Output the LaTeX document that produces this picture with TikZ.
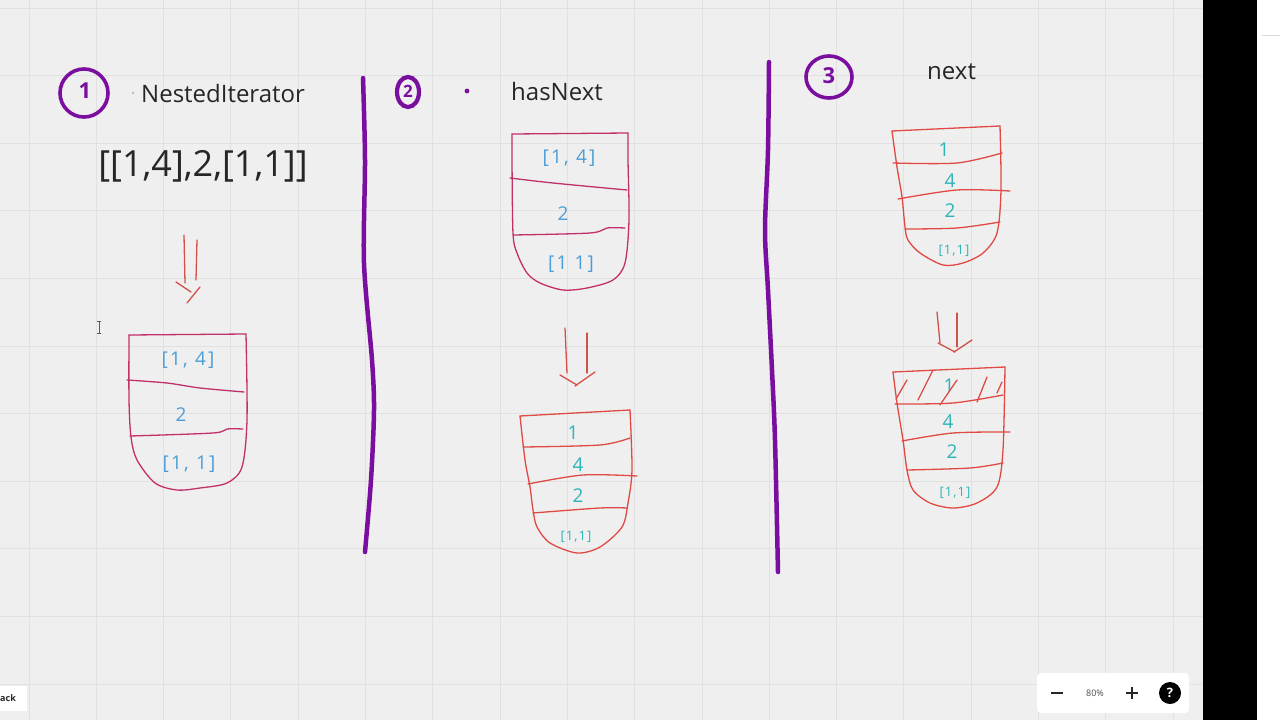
\documentclass[tikz,border=0pt]{standalone}
\usepackage{fontspec}
\setmainfont{Open Sans}
\definecolor{bg}{HTML}{EFEFEF}
\definecolor{gridc}{HTML}{E1E1E1}
\definecolor{purp}{HTML}{7A0E9E}
\definecolor{rose}{HTML}{C2306A}
\definecolor{redd}{HTML}{E04A44}
\definecolor{arrowc}{HTML}{D2524A}
\definecolor{bluet}{HTML}{4C9ED8}
\definecolor{tealt}{HTML}{2DB4B8}
\definecolor{ink}{HTML}{262626}
\tikzset{
  stackline/.style={line width=1.3pt, line join=round, line cap=round},
  sepline/.style={purp, line width=4.5pt, line cap=round, line join=round},
  numcircle/.style={purp, line width=3.6pt},
  numtext/.style={text=purp, font=\bfseries\fontsize{22}{22}\selectfont, inner sep=0},
  hw/.style={font=\fontsize{19}{19}\selectfont\addfontfeatures{LetterSpace=12}, inner sep=0},
  hws/.style={font=\fontsize{13}{13}\selectfont\addfontfeatures{LetterSpace=8}, inner sep=0},
  title/.style={font=\fontsize{24}{24}\selectfont, text=ink, anchor=west, inner sep=0},
}
\begin{document}
\begin{tikzpicture}[x=1pt,y=-1pt]
\useasboundingbox (0,0) rectangle (1280,720);
\fill[bg] (0,0) rectangle (1280,720);
% grid
\foreach \i in {0,...,17} \draw[gridc, line width=1pt] ({29+67.3*\i},0) -- ({29+67.3*\i},720);
\foreach \j in {0,...,10} \draw[gridc, line width=1pt] (0,{8+67.6*\j}) -- (1203,{8+67.6*\j});

% ---------- section 1 ----------
\draw[numcircle] (84,93) ellipse [x radius=24, y radius=24];
\node[numtext] (n1) at (85,91) {1};
\fill[black!45] (133,93) circle (0.9);
\node[title] (t1) at (141,93) {NestedIterator};
\node[font=\fontsize{36}{36}\selectfont, text=ink] (arr) at (203,166) {[[1,4],2,[1,1]]};

% arrow 1
\draw[arrowc, stackline] (184,235) -- (185,283);
\draw[arrowc, stackline] (197,240) -- (196,280);
\draw[arrowc, stackline] (176,282) -- (191,292);
\draw[arrowc, stackline] (200,287) -- (187,303);

% cursor
\draw[black!65, line width=0.6pt] (99,321) -- (99,333) (97,321) -- (101,321) (97,333) -- (101,333);

% stack 1
\draw[rose, stackline] (129,335) -- (246,334);
\draw[rose, stackline] plot[smooth] coordinates {(129,335) (129,400) (131,437) (137,460) (155,483) (177,490) (200,488) (227,483) (242,467) (247,420) (246,334)};
\draw[rose, stackline] plot[smooth] coordinates {(127,380) (167,383) (200,388) (244,392)};
\draw[rose, stackline] plot[smooth] coordinates {(130,436) (213,433) (227,429) (243,429)};
\node[hw, text=bluet] (s1a) at (188,360) {[1, 4]};
\node[hw, text=bluet] (s1b) at (181,415) {2};
\node[hw, text=bluet] (s1c) at (189,464) {[1, 1]};

% separator 1
\draw[sepline] plot[smooth] coordinates {(363,78) (365,160) (364,263) (372,360) (374,410) (371,480) (365,552)};

% ---------- section 2 ----------
\draw[numcircle, line width=4.2pt] (408,92) ellipse [x radius=11, y radius=15];
\node[numtext, font=\bfseries\fontsize{17}{17}\selectfont] (n2) at (408,91) {2};
\fill[purp] (467,91) circle (2.4);
\node[title] (t2) at (511,91) {hasNext};

% stack 2a
\draw[rose, stackline] (512,134) -- (628,133);
\draw[rose, stackline] plot[smooth] coordinates {(512,134) (512,160) (513,233) (517,253) (527,273) (540,283) (563,290) (587,288) (613,280) (625,263) (629,220) (628,160) (628,133)};
\draw[rose, stackline] plot[smooth] coordinates {(510,178) (553,183) (627,190)};
\draw[rose, stackline] plot[smooth] coordinates {(513,235) (590,233) (607,228) (625,228)};
\node[hw, text=bluet] (s2a) at (569,158) {[1, 4]};
\node[hw, text=bluet] (s2b) at (563,214) {2};
\node[hw, text=bluet] (s2c) at (571,264) {[1 1]};

% arrow 2
\draw[arrowc, stackline] (565,328) -- (567,373);
\draw[arrowc, stackline] (587,333) -- (587,373);
\draw[arrowc, stackline] (560,375) -- (577,385);
\draw[arrowc, stackline] (595,372) -- (575,386);

% stack 2b
\draw[redd, stackline] (520,416) -- (630,410);
\draw[redd, stackline] plot[smooth] coordinates {(520,416) (525,460) (530,487) (533,510) (537,527) (550,543) (577,553) (600,547) (622,527) (628,503) (632,470) (630,410)};
\draw[redd, stackline] plot[smooth] coordinates {(523,447) (600,445) (630,438)};
\draw[redd, stackline] plot[smooth] coordinates {(528,484) (583,475) (637,476)};
\draw[redd, stackline] plot[smooth] coordinates {(533,513) (600,508) (627,508)};
\node[hw, text=tealt] (s3a) at (573,433) {1};
\node[hw, text=tealt] (s3b) at (578,465) {4};
\node[hw, text=tealt] (s3c) at (578,496) {2};
\node[hws, text=tealt] (s3d) at (576,537) {[1,1]};

% separator 2
\draw[sepline] plot[smooth] coordinates {(769,62) (768,150) (765,230) (768,290) (772,370) (775,440) (778,572)};

% ---------- section 3 ----------
\draw[numcircle] (829,77) ellipse [x radius=23, y radius=21];
\node[numtext] (n3) at (829,76) {3};
\node[title] (t3) at (927,72) {next};

% stack 3a
\draw[redd, stackline] (892,131) -- (1000,126);
\draw[redd, stackline] plot[smooth] coordinates {(892,131) (897,167) (902,197) (905,227) (908,240) (920,253) (943,265) (963,263) (983,253) (997,233) (1001,190) (1000,126)};
\draw[redd, stackline] plot[smooth] coordinates {(893,163) (957,163) (1002,153)};
\draw[redd, stackline] plot[smooth] coordinates {(898,199) (957,190) (1010,191)};
\draw[redd, stackline] plot[smooth] coordinates {(905,229) (957,228) (1000,222)};
\node[hw, text=tealt] (s4a) at (944,150) {1};
\node[hw, text=tealt] (s4b) at (950,181) {4};
\node[hw, text=tealt] (s4c) at (950,211) {2};
\node[hws, text=tealt] (s4d) at (954,251) {[1,1]};

% arrow 3
\draw[arrowc, stackline] (937,312) -- (940,343);
\draw[arrowc, stackline] (957,313) -- (957,347);
\draw[arrowc, stackline] (938,343) -- (955,352);
\draw[arrowc, stackline] (972,340) -- (954,352);

% stack 3b
\draw[redd, stackline] (893,372) -- (1005,367);
\draw[redd, stackline] plot[smooth] coordinates {(893,372) (897,403) (903,440) (907,470) (913,490) (930,503) (953,508) (977,503) (997,487) (1003,450) (1005,367)};
\draw[redd, stackline] plot[smooth] coordinates {(895,404) (953,403) (1003,395)};
\draw[redd, stackline] plot[smooth] coordinates {(902,441) (953,433) (1010,432)};
\draw[redd, stackline] plot[smooth] coordinates {(907,470) (970,468) (1003,463)};
\node[hw, text=tealt] (s5a) at (949,386) {1};
\draw[redd, stackline] (896,399) -- (907,380);
\draw[redd, stackline] (918,400) -- (933,370);
\draw[redd, stackline] (940,405) -- (957,380);
\draw[redd, stackline] (977,402) -- (987,377);
\draw[redd, stackline] (997,393) -- (1002,382);
\node[hw, text=tealt] (s5b) at (948,422) {4};
\node[hw, text=tealt] (s5c) at (952,452) {2};
\node[hws, text=tealt] (s5d) at (955,493) {[1,1]};

% ---------- UI chrome ----------
\fill[black] (1203,0) rectangle (1257,720);
\fill[white] (1257,0) rectangle (1280,720);
\draw[black!15, line width=0.8pt] (1262,35) -- (1280,35);
\fill[white, rounded corners=4pt] (1037,673) rectangle (1189,713);
\draw[black!85, line width=1.4pt] (1051,693) -- (1063,693);
\node[font=\fontsize{9}{9}\selectfont, text=black!70, inner sep=0] (zoomlbl) at (1095,693) {80\%};
\draw[black!85, line width=1.4pt] (1126,693) -- (1138,693) (1132,687) -- (1132,699);
\fill[black] (1170,693) circle (11);
\node[font=\bfseries\fontsize{13}{13}\selectfont, text=white, inner sep=0] (help) at (1170,693) {?};
\fill[white] (0,686) rectangle (27,711);
\node[font=\bfseries\fontsize{9}{9}\selectfont, anchor=west, inner sep=0, text=ink] (ack) at (0,698) {ack};
\end{tikzpicture}
\end{document}
